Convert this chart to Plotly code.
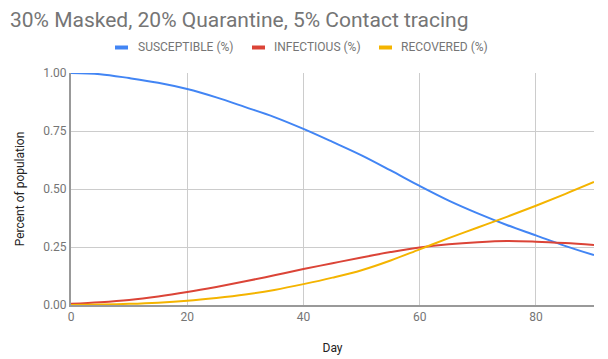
import plotly.graph_objects as go

days = [0, 5, 10, 15, 20, 25, 30, 35, 40, 45, 50, 55, 60, 65, 70, 75, 80, 85, 90]
susceptible = [1.0, 0.995, 0.978, 0.958, 0.931, 0.895, 0.853, 0.81, 0.759, 0.703, 0.645, 0.58, 0.513, 0.45, 0.395, 0.345, 0.30, 0.255, 0.215]
infectious = [0.005, 0.012, 0.022, 0.037, 0.056, 0.078, 0.102, 0.128, 0.155, 0.18, 0.205, 0.228, 0.248, 0.262, 0.271, 0.276, 0.273, 0.267, 0.259]
recovered = [0.0, 0.002, 0.005, 0.01, 0.018, 0.03, 0.045, 0.065, 0.09, 0.118, 0.15, 0.192, 0.24, 0.288, 0.334, 0.38, 0.428, 0.478, 0.53]

names = ["SUSCEPTIBLE (%)", "INFECTIOUS (%)", "RECOVERED (%)"]
colors = ["#4285F4", "#DB4437", "#F4B400"]
values = [susceptible, infectious, recovered]

# page offset: the browser body has an 8px margin
OFF = 8
W, H = 608 - OFF, 359 - OFF
PL, PR, PT, PB = 71, 594, 73, 305  # plot area in page pixels


def px_x(px):
    return (px - PL) / (PR - PL)


def px_y(py):
    return (PB - py) / (PB - PT)


fig = go.Figure()
for name, vals, color in zip(names, values, colors):
    fig.add_trace(go.Scatter(x=days, y=vals, name=name, mode="lines",
                             line=dict(color=color, width=2, shape="spline")))

# custom legend (Google-charts style short bars)
legend_bar_x = [115, 252, 379]
legend_text_x = [136, 272, 399]
shapes, annotations = [], []
for bx, tx, name, color in zip(legend_bar_x, legend_text_x, names, colors):
    shapes.append(dict(type="rect", xref="paper", yref="paper",
                       x0=px_x(bx), x1=px_x(bx + 13), y0=px_y(49.5), y1=px_y(45.5),
                       fillcolor=color, line=dict(width=0)))
    annotations.append(dict(text=name, xref="paper", yref="paper", x=px_x(tx), y=px_y(47),
                            xanchor="left", yanchor="middle", showarrow=False,
                            font=dict(size=12, color="#757575")))

fig.update_layout(
    width=W, height=H,
    margin=dict(l=PL - OFF, r=W - (PR - OFF), t=PT - OFF, b=H - (PB - OFF), autoexpand=False),
    paper_bgcolor="white", plot_bgcolor="white",
    font=dict(family="Roboto, Arial, sans-serif", color="#757575", size=12),
    title=dict(text="30% Masked, 20% Quarantine, 5% Contact tracing",
               x=2 / W, xanchor="left", y=1 - 12 / H, yanchor="middle",
               font=dict(size=21, color="#757575")),
    showlegend=False,
    shapes=shapes,
    annotations=annotations,
)
fig.update_xaxes(range=[0, 90], tickvals=[0, 20, 40, 60, 80], showgrid=True, automargin=False,
                 gridcolor="#cccccc", zeroline=False, showline=True, linecolor="#999999",
                 linewidth=2, ticks="",
                 title=dict(text="Day", standoff=20, font=dict(color="#222222", size=12)))
fig.update_yaxes(range=[0, 1.0], tickvals=[0, 0.25, 0.5, 0.75, 1.0], tickformat=".2f",
                 showgrid=True, gridcolor="#cccccc", zeroline=False, showline=True, automargin=False,
                 linecolor="#999999", linewidth=2, ticks="",
                 title=dict(text="Percent of population", standoff=16,
                            font=dict(color="#222222", size=12)))

fig.write_html("out.html")
